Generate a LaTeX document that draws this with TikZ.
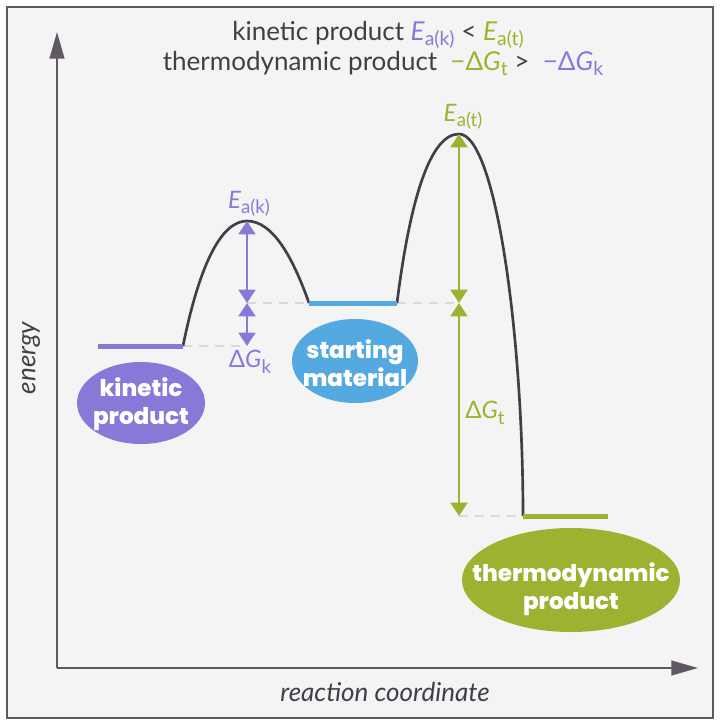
\documentclass[tikz,border=0pt]{standalone}
\usepackage{fontspec}
\setmainfont{Lato}
\newfontfamily\boldlab{Poppins}[BoldFont={Poppins ExtraBold}]
\usetikzlibrary{arrows.meta,shapes.geometric}
\definecolor{bgc}{HTML}{F4F4F4}
\definecolor{framec}{HTML}{5E5863}
\definecolor{darkc}{HTML}{433D48}
\definecolor{purc}{HTML}{8A78D9}
\definecolor{bluc}{HTML}{55A9E1}
\definecolor{grnc}{HTML}{9EB232}
\definecolor{dashc}{HTML}{D9D9D9}
\newcommand\lowsub[1]{\raisebox{-0.45ex}{\fontsize{14}{14}\selectfont #1}}
\newcommand\toplowsub[1]{\raisebox{-0.45ex}{\fontsize{14.5}{14.5}\selectfont #1}}
\tikzset{
  level/.style={line width=3.75pt},
  curvec/.style={draw=darkc, line width=2pt},
  dashline/.style={draw=dashc, line width=2pt, dash pattern=on 7pt off 5pt},
  dblarrow/.style={line width=2.2pt, {Triangle[width=12.5pt,length=10pt]}-{Triangle[width=12.5pt,length=10pt]}},
  blob/.style={ellipse, inner sep=0pt},
  blobtext/.style={text=white, font=\boldlab\bfseries\fontsize{17.3}{21}\selectfont, align=center, inner sep=0pt},
  lab/.style={font=\fontsize{18}{20}\selectfont, inner sep=0pt},
  toptext/.style={font=\fontsize{19.5}{22}\selectfont, inner sep=0pt, text=darkc, anchor=base},
  axlab/.style={font=\itshape\fontsize{19.5}{22}\selectfont, inner sep=0pt, text=darkc},
  axis/.style={draw=framec, line width=1.6pt, -{Triangle[width=11pt,length=20pt]}}
}
\begin{document}
\begin{tikzpicture}[x=0.75pt,y=-0.75pt]
\useasboundingbox (0,0) rectangle (720,726);
\fill[white] (0,0) rectangle (720,726);
\draw[fill=bgc, draw=framec, line width=1.6pt] (7,7) rectangle (713,718);
% axes
\coordinate (o) at (57,668);
\coordinate (ytop) at (57,32);
\coordinate (xend) at (698,668);
\draw[axis] (o) -- (ytop);
\draw[axis] (o) -- (xend);
\node[axlab] (xl) at (385,692) {reaction coordinate};
\node[axlab, rotate=90] (yl) at (31,358) {energy};
% key points
\coordinate (kL) at (98,346);
\coordinate (kR) at (183,346);
\coordinate (pk) at (247,221);
\coordinate (sL) at (309,303);
\coordinate (sR) at (397,303);
\coordinate (pt) at (459,134);
\coordinate (tL) at (523,516);
\coordinate (tR) at (608,516);
\coordinate (ak) at (247,346);
\coordinate (am) at (247,303);
\coordinate (tm) at (459,303);
\coordinate (tb) at (459,516);
% dashed guides
\draw[dashline] (kR) -- (ak);
\draw[dashline] (am) -- (sL);
\draw[dashline] (sR) -- (tm);
\draw[dashline] (tb) -- (tL);
% curve
\draw[curvec] (kR) .. controls (200,262) and (222,221) .. (pk)
  .. controls (272,221) and (292,255) .. (sL);
\draw[curvec] (sR) .. controls (410,200) and (430,134) .. (pt)
  .. controls (495,134) and (523,330) .. (tL);
% levels
\draw[level, purc] (kL) -- (kR);
\draw[level, bluc] (sL) -- (sR);
\draw[level, grnc] (tL) -- (tR);
% arrows
\draw[dblarrow, purc] (pk) -- (am);
\draw[dblarrow, purc] (am) -- (ak);
\draw[dblarrow, grnc] (pt) -- (tm);
\draw[dblarrow, grnc] (tm) -- (tb);
% labels
\node[lab, text=purc] (eak) at (249,204) {\textit{E}\lowsub{a(k)}};
\node[lab, text=purc] (dgk) at (250,362) {Δ\textit{G}\lowsub{k}};
\node[lab, text=grnc] (eat) at (463,117) {\textit{E}\lowsub{a(t)}};
\node[lab, text=grnc] (dgt) at (485,413) {Δ\textit{G}\lowsub{t}};
% ellipses
\node[blob, fill=purc, minimum width=96pt, minimum height=61.5pt] (kp) at (141,403) {};
\node[blobtext] (kpt) at (141,404) {kinetic\\product};
\node[blob, fill=bluc, minimum width=94.5pt, minimum height=63pt] (sm) at (355,361) {};
\node[blobtext] (smt) at (355,363) {starting\\material};
\node[blob, fill=grnc, minimum width=163.5pt, minimum height=78pt] (tp) at (571,580) {};
\node[blobtext] (tpt) at (571,589) {thermodynamic\\product};
% top text
\node[toptext] (t1) at (378,40) {kinetic product \textcolor{purc}{\textit{E}\toplowsub{a(k)}} < \textcolor{grnc}{\textit{E}\toplowsub{a(t)}}};
\node[toptext] (t2) at (383,70) {thermodynamic product \ \textcolor{grnc}{−Δ\textit{G}\toplowsub{t}} > \ \textcolor{purc}{−Δ\textit{G}\toplowsub{k}}};
\end{tikzpicture}
\end{document}
